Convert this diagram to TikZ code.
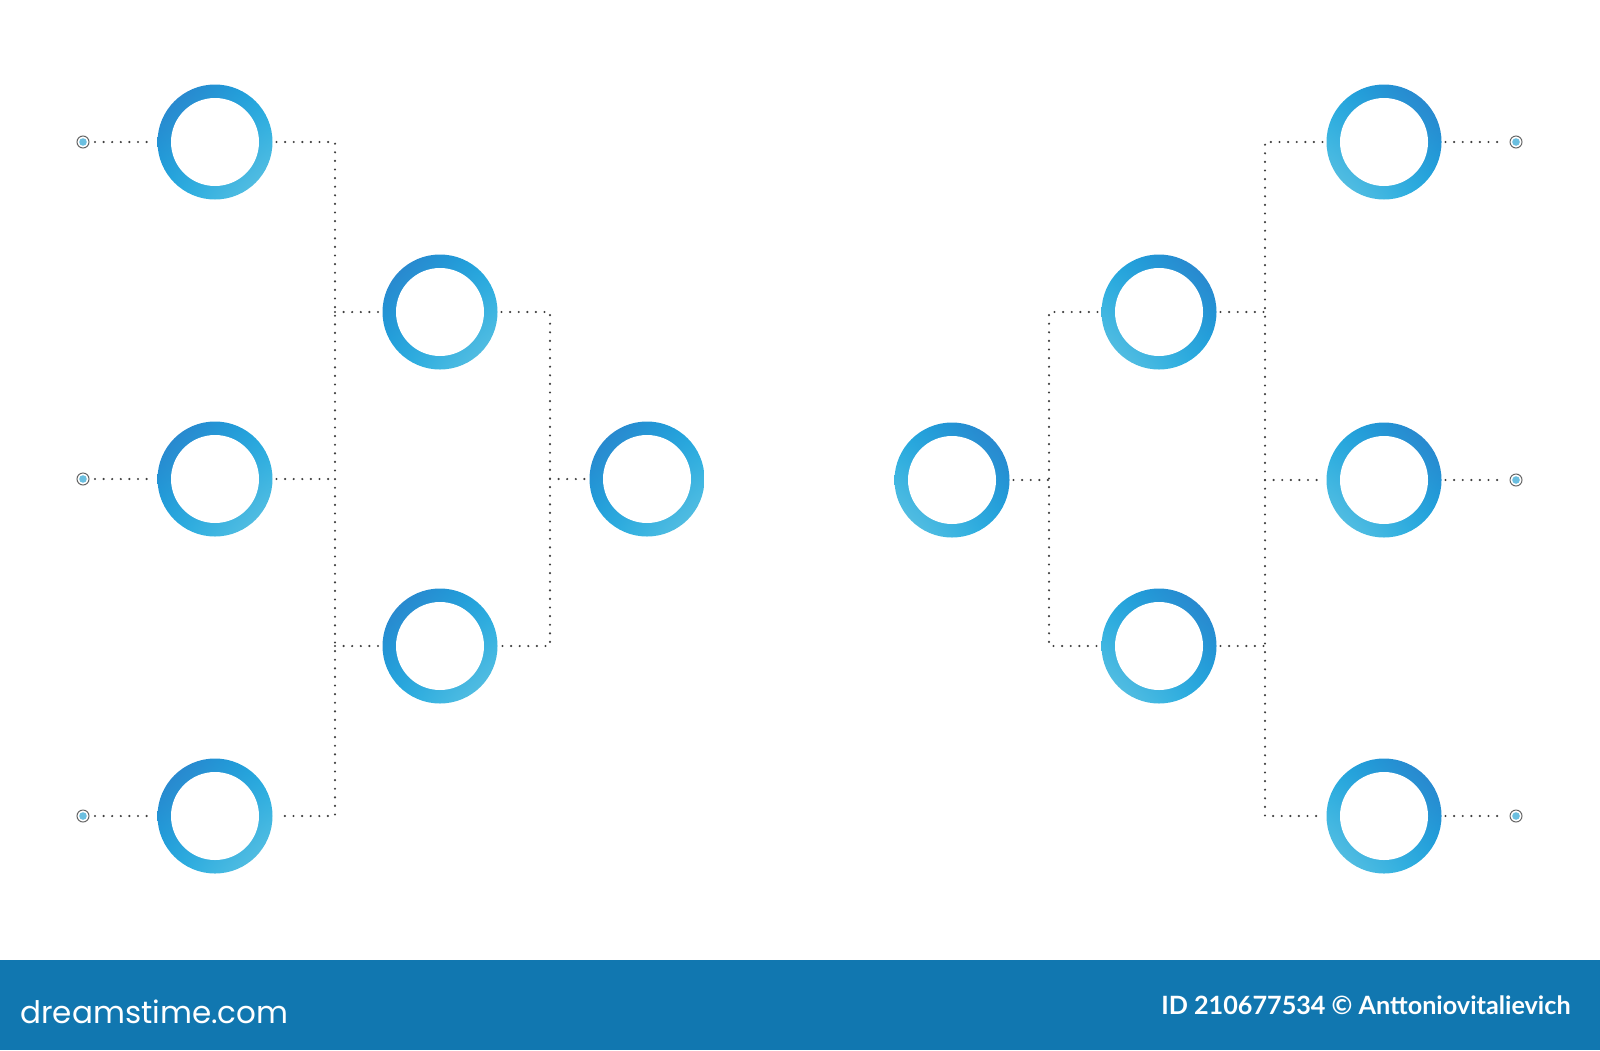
\documentclass[tikz,border=0pt]{standalone}
\usepackage{fontspec}
\newfontfamily\logofont{Poppins}
\newfontfamily\idfont{Lato}
\usetikzlibrary{positioning,shadings}

\definecolor{ringdark}{HTML}{2B7DC9}
\definecolor{ringmid}{HTML}{1CA8DF}
\definecolor{ringlight}{HTML}{63C5E3}
\definecolor{dotgray}{HTML}{404040}
\definecolor{endblue}{HTML}{6BBFE0}
\definecolor{banner}{HTML}{1177B0}

\tikzset{
  ring/.style={circle, inner sep=0pt, minimum size=57.5pt, outer sep=2pt,
    path picture={\fill[white] (path picture bounding box.center) circle (22pt);}},
  ringleft/.style={ring, upper left=ringdark, upper right=ringmid,
    lower left=ringmid, lower right=ringlight},
  ringright/.style={ring, upper left=ringmid, upper right=ringdark,
    lower left=ringlight, lower right=ringmid},
  enddot/.style={circle, draw=dotgray!80, line width=0.5pt, fill=white,
    inner sep=0pt, minimum size=6pt, outer sep=3pt,
    path picture={\fill[endblue] (path picture bounding box.center) circle (1.9pt);}},
  dots/.style={draw=dotgray, line width=1.2pt, line cap=round,
    dash pattern=on 0pt off 4.3pt}
}

\begin{document}
\begin{tikzpicture}[x=0.5pt,y=-0.5pt]
\useasboundingbox (0,0) rectangle (1600,1050);

% left half
\node[ringleft] (L1) at (215,142) {};
\node[ringleft] (L2) at (215,479) {};
\node[ringleft] (L3) at (215,816) {};
\node[ringleft] (M1) at (440,312) {};
\node[ringleft] (M2) at (440,646) {};
\node[ringleft] (F1) at (647,479) {};
\node[enddot] (a1) at (83,142) {};
\node[enddot] (a2) at (83,479) {};
\node[enddot] (a3) at (83,816) {};
\coordinate (ja) at (335,479);
\coordinate (jb) at (550,479);

% right half
\node[ringright] (F2) at (952,480) {};
\node[ringright] (M3) at (1159,312) {};
\node[ringright] (M4) at (1159,646) {};
\node[ringright] (R1) at (1384,142) {};
\node[ringright] (R2) at (1384,480) {};
\node[ringright] (R3) at (1384,816) {};
\node[enddot] (b1) at (1516,142) {};
\node[enddot] (b2) at (1516,480) {};
\node[enddot] (b3) at (1516,816) {};
\coordinate (jc) at (1049,480);
\coordinate (jd) at (1265,480);

% connectors
\draw[dots] (a1) -- (L1);
\draw[dots] (a2) -- (L2);
\draw[dots] (a3) -- (L3);
\draw[dots] (L1) -| (ja) |- (L3);
\draw[dots] (L2) -- (ja);
\draw[dots] (ja |- M1) -- (M1);
\draw[dots] (ja |- M2) -- (M2);
\draw[dots] (M1) -| (jb) |- (M2);
\draw[dots] (jb) -- (F1);

\draw[dots] (R1) -- (b1);
\draw[dots] (R2) -- (b2);
\draw[dots] (R3) -- (b3);
\draw[dots] (R1) -| (jd) |- (R3);
\draw[dots] (jd) -- (R2);
\draw[dots] (M3) -- (jd |- M3);
\draw[dots] (M4) -- (jd |- M4);
\draw[dots] (M3) -| (jc) |- (M4);
\draw[dots] (F2) -- (jc);

% footer
\fill[banner] (0,960) rectangle (1600,1050);
\node[anchor=west, text=white, inner sep=0pt] (logo) at (20,1012)
  {\logofont\fontsize{15.5}{18}\selectfont dreamstime.com};
\node[anchor=east, text=white, inner sep=0pt] (credit) at (1571,1005)
  {\idfont\bfseries\fontsize{12.6}{15}\selectfont ID 210677534 \textcopyright{} Anttoniovitalievich};
\end{tikzpicture}
\end{document}
